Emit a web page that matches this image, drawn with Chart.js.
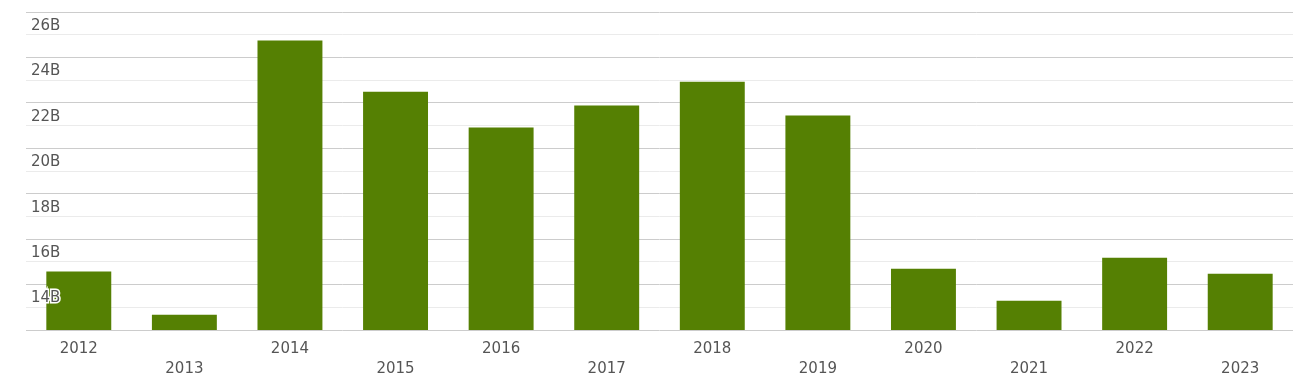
<!DOCTYPE html>
<html lang="en">
<head>
    <meta charset="UTF-8" />
    <title>Bar chart</title>
    <script src="https://cdn.jsdelivr.net/npm/chart.js"></script>
    <style>
        html, body { margin: 0; padding: 0; background: #fff; }
        .chart-box { width: 1293px; height: 384px; position: relative; }
    </style>
</head>
<body>
    <div class="chart-box">
        <canvas id="grafico"></canvas>
    </div>

<script>
    // data (values in billions)
    const anos = ['2012', '2013', '2014', '2015', '2016', '2017', '2018', '2019', '2020', '2021', '2022', '2023'];
    const valores = [14.57, 12.67, 24.74, 22.49, 20.91, 21.88, 22.93, 21.44, 14.70, 13.29, 15.18, 14.48];
    const yMin = 12;
    const yMax = 26;
    const rotulosY = ['14B', '16B', '18B', '20B', '22B', '24B', '26B'];

    const ctx = document.getElementById('grafico').getContext('2d');
    Chart.defaults.font.family = "'DejaVu Sans', sans-serif";

    new Chart(ctx, {
        type: 'bar',
        data: {
            labels: anos,
            datasets: [{
                data: valores,
                backgroundColor: '#558003',
                barPercentage: 0.615,
                categoryPercentage: 1
            }]
        },
        options: {
            responsive: true,
            maintainAspectRatio: false,
            animation: false,
            layout: { padding: { top: 12, left: 0, right: 0, bottom: 0 } },
            plugins: {
                legend: { display: false },
                tooltip: { enabled: false }
            },
            scales: {
                x: {
                    afterFit: s => { s.height = 54; },
                    grid: { display: false },
                    border: { display: false },
                    ticks: {
                        color: '#555',
                        font: { size: 15, lineHeight: '20px' },
                        padding: 1,
                        maxRotation: 0,
                        autoSkip: false,
                        callback: function (v, i) {
                            return i % 2 === 0 ? anos[i] : ['', anos[i]];
                        }
                    }
                },
                y: {
                    min: yMin,
                    max: yMax,
                    afterFit: s => { s.width = 26; s.paddingTop = 0; s.paddingBottom = 0; },
                    border: { display: false },
                    grid: {
                        drawTicks: false,
                        color: c => (c.tick && c.tick.value % 2 === 0) ? '#cccccc' : '#ebebeb'
                    },
                    ticks: {
                        stepSize: 1,
                        mirror: true,
                        padding: 5,
                        labelOffset: 14,
                        z: 1,
                        color: '#555',
                        font: { size: 15 },
                        textStrokeColor: '#fff',
                        textStrokeWidth: 3,
                        callback: function (v) {
                            const t = v + 'B';
                            return rotulosY.includes(t) ? t : '';
                        }
                    }
                }
            }
        }
    });
</script>
</body>
</html>
